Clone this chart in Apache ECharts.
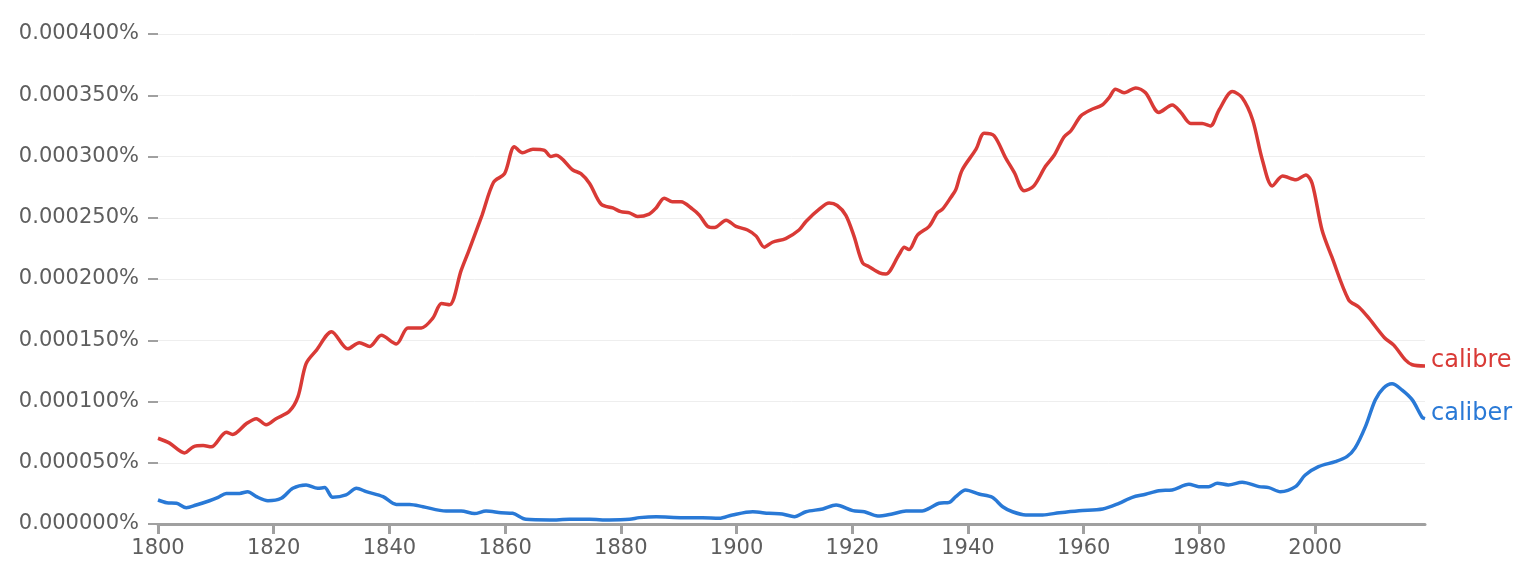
<!DOCTYPE html>
<html>
<head>
<meta charset="utf-8">
<script src="https://cdn.jsdelivr.net/npm/echarts@6/dist/echarts.min.js"></script>
<style>
html,body{margin:0;padding:0;background:#fff;}
#chart{width:1536px;height:578px;}
</style>
</head>
<body>
<div id="chart"></div>
<script>
// Values in percent (e.g. 0.000070 means 0.000070%)
const calibreYears = [1800,1802,1804.6,1806.1,1807.8,1809.2,1811.8,1812.9,1815.3,1817,1818.7,1820.4,1822.7,1824.2,1825.6,1827.4,1830,1832.8,1834.8,1836.6,1838.6,1841.2,1843.2,1845.5,1847.5,1849,1850.4,1852.4,1853.8,1856,1858,1859.9,1861.6,1863,1864.8,1866.8,1867.9,1868.8,1871.7,1873.1,1874.6,1876.6,1878.6,1880,1881.5,1882.9,1884.9,1886.1,1887.5,1888.9,1890.4,1892.4,1893.6,1895,1896.2,1898.2,1899.9,1901.9,1903.4,1904.8,1906.2,1908.5,1910.8,1912,1914.3,1916,1917.4,1918.9,1920.3,1921.8,1922.9,1924.7,1925.8,1928.1,1929,1929.8,1931.3,1933.3,1934.7,1935.6,1937.1,1937.9,1939,1941.4,1942.8,1944.5,1946.5,1948,1949.7,1951.4,1953.4,1954.9,1956.6,1957.8,1959.5,1961.2,1963.2,1964.4,1965.5,1967,1969,1970.7,1973,1975.3,1976.8,1978.5,1980.5,1981.9,1983.4,1985.7,1987.4,1989.2,1990.9,1992.6,1994.4,1996.7,1998.4,1999.5,2001.2,2002.9,2005.8,2007.6,2009.3,2012,2013.6,2015.6,2016.8,2019];
const calibreValues = [70,66,58,63,64,63,75,73,82,86,81,86,92,104,131,142,157,143,148,145,154,147,160,160,168,180,179,207,224,252,279,286,308,303,306,305,300,301,289,286,278,261,258,255,254,251,253,258,266,263,263,257,252,243,242,248,243,240,235,226,230,233,240,247,257,262,260,252,235,213,210,205,204,220,226,224,236,243,254,257,267,273,289,306,319,317,299,287,272,276,292,301,316,321,333,338,342,348,355,352,356,352,336,342,336,327,327,325,338,353,348,330,297,276,284,281,285,278,240,218,183,177,168,152,146,134,130,129];

const caliberYears = [1800,1801.5,1803.2,1804.9,1806.6,1808.9,1810.4,1811.8,1814.1,1815.5,1817,1819,1821.3,1823.3,1825.6,1827.6,1828.8,1830.2,1832.5,1834.3,1836,1838.9,1841.2,1843.5,1845.8,1849.8,1852.4,1854.7,1856.7,1859.3,1861.3,1863.6,1867.7,1871.1,1874.6,1878,1881.5,1883.2,1886.1,1890.7,1894.1,1897,1899.3,1902.8,1905.6,1907.9,1910,1912,1914.9,1917.2,1920.1,1922.1,1924.4,1926.9,1929.3,1932.1,1933.3,1935,1936.8,1937.9,1939.6,1941.9,1944.2,1946,1947.7,1950,1952.9,1955.8,1959.2,1963.3,1966.1,1968.4,1970.7,1973,1975.3,1978.2,1979.9,1981.6,1983.1,1985,1987.4,1990.3,1992,1994,1996.6,1998.3,2000.6,2003.5,2005.5,2006.9,2008.7,2010.4,2011.8,2013.3,2015,2016.8,2018.5,2019];
const caliberValues = [19.6,17.4,17,13.3,15.5,19,21.8,25,25,26.4,22.3,19,21,29.2,31.9,29.2,29.7,21.8,23.7,29.2,26.4,22.3,16,16,14.1,10.6,10.6,8.5,10.6,9.2,8.7,3.8,3.3,3.8,3.8,3.3,3.8,5.2,6,5.2,5.2,4.6,7.4,10,8.7,8.2,6,10,12.3,15.5,10.9,10,6.5,8.2,10.6,10.6,12.8,16.9,17.7,22.3,27.8,24.5,21.8,14.1,10,7.4,7.4,9.2,10.9,12.3,16.9,21.8,24.3,27.2,27.8,32.4,30.5,30.5,33.3,31.9,34.1,30.5,29.7,26.4,30.5,40,46.8,50.9,55,61.9,79.5,101.3,110.9,114.4,109.5,101.3,87.2,86];

const yTicks = [0,0.00005,0.0001,0.00015,0.0002,0.00025,0.0003,0.00035,0.0004];
const xTicks = [1800,1820,1840,1860,1880,1900,1920,1940,1960,1980,2000];

const toPairs = (xs, vs) => xs.map((x, i) => [x, vs[i] / 1e6]);

const chart = echarts.init(document.getElementById('chart'));
const labelColor = '#5e5e5e';
const labelFont = '"DejaVu Sans", Roboto, sans-serif';
chart.setOption({
  animation: false,
  grid: {left: 158, right: 111, top: 34, bottom: 54},
  xAxis: {
    type: 'value', min: 1800, max: 2019, interval: 20,
    axisLine: {show: true, lineStyle: {color: '#a0a0a0', width: 3}},
    axisTick: {show: true, length: 10, lineStyle: {color: '#a0a0a0', width: 3}},
    splitLine: {show: false},
    axisLabel: {color: labelColor, fontSize: 21, fontFamily: labelFont, margin: 14, showMaxLabel: false,
      formatter: v => xTicks.includes(v) ? String(v) : ''}
  },
  yAxis: {
    type: 'value', min: 0, max: 0.0004, interval: 0.00005,
    axisLine: {show: false},
    axisTick: {show: true, length: 10, lineStyle: {color: '#a0a0a0', width: 2}},
    splitLine: {show: true, lineStyle: {color: '#eeeeee', width: 1}},
    axisLabel: {color: labelColor, fontSize: 21, fontFamily: labelFont, margin: 19,
      formatter: v => { const t = yTicks.find(y => Math.abs(y - v) < 1e-9); return t === undefined ? '' : t.toFixed(6) + '%'; }}
  },
  series: [
    {
      name: 'calibre', type: 'line', data: toPairs(calibreYears, calibreValues),
      showSymbol: false, smooth: 0.3, lineStyle: {color: '#d93a36', width: 3.5}, itemStyle: {color: '#d93a36'},
      endLabel: {show: true, formatter: '{a}', color: '#d93a36', fontSize: 24, fontFamily: labelFont, distance: 6, offset: [0, -5]}
    },
    {
      name: 'caliber', type: 'line', data: toPairs(caliberYears, caliberValues),
      showSymbol: false, smooth: 0.3, lineStyle: {color: '#2979d6', width: 3.5}, itemStyle: {color: '#2979d6'},
      endLabel: {show: true, formatter: '{a}', color: '#2979d6', fontSize: 24, fontFamily: labelFont, distance: 6, offset: [0, -5]}
    }
  ]
});
</script>
</body>
</html>
